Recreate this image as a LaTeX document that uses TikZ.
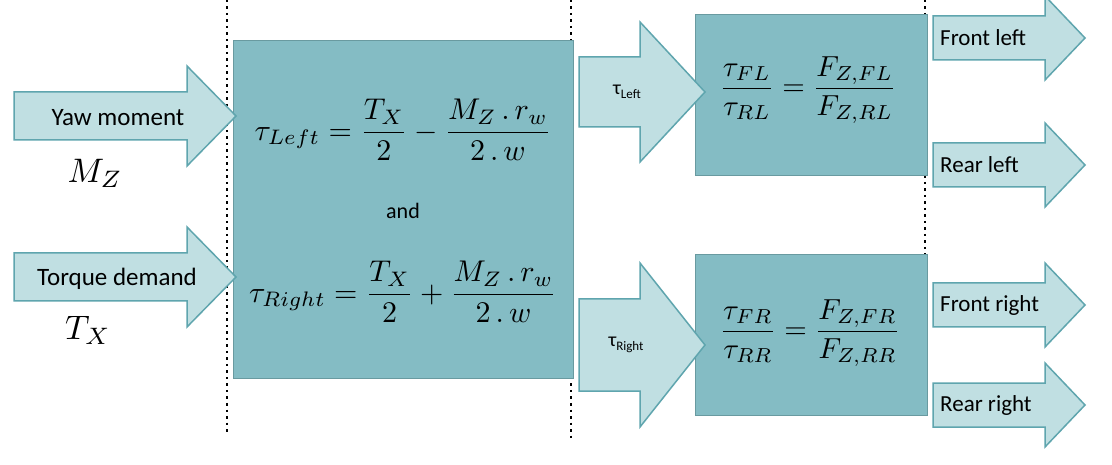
\documentclass[tikz,border=0pt]{standalone}
\usepackage{fontspec}
\setmainfont{Carlito}
\usepackage{amsmath}
\usepackage{graphicx}
\definecolor{boxc}{HTML}{84BCC4}
\definecolor{arrc}{HTML}{C0DFE2}
\definecolor{edgec}{HTML}{5FA5AE}
% #1 x start, #2 x head base, #3 x tip, #4 y centre, #5 body half, #6 head half
\newcommand{\myarrow}[6]{\draw[arr] (#1,#4-#5) -- (#2,#4-#5) -- (#2,#4-#6) -- (#3,#4) -- (#2,#4+#6) -- (#2,#4+#5) -- (#1,#4+#5) -- cycle;}
\begin{document}
\begin{tikzpicture}[x=1pt,y=-1pt,
 box/.style={draw=edgec!70!gray,line width=1.2pt,fill=boxc},
 arr/.style={draw=edgec,line width=1.5pt,fill=arrc,line join=miter},
 lbl/.style={font=\fontsize{25}{30}\selectfont,inner sep=0pt},
 eq/.style={inner sep=0pt},
 sep/.style={line width=2.5pt,dash pattern=on 2.5pt off 4pt}]
\useasboundingbox (0,0) rectangle (1112,465);
\fill[white] (0,0) rectangle (1112,465);
% separators
\coordinate (s1a) at (227,0); \coordinate (s1b) at (227,432);
\coordinate (s2a) at (571,0); \coordinate (s2b) at (571,440);
\coordinate (s3a) at (925,0); \coordinate (s3b) at (925,400);
\draw[sep] (s1a)--(s1b); \draw[sep] (s2a)--(s2b); \draw[sep] (s3a)--(s3b);
% boxes
\node[box,minimum width=340,minimum height=338,anchor=north west] (main) at (233,40) {};
\node[box,minimum width=232,minimum height=161,anchor=north west] (top) at (695,14) {};
\node[box,minimum width=232,minimum height=161,anchor=north west] (bot) at (695,254) {};
% input arrows
\myarrow{14}{187}{236}{116}{24}{50}
\node[lbl] (yawt) at (118,118) {Yaw moment};
\myarrow{14}{187}{236}{277}{24}{50}
\node[lbl] (tqt) at (117,279) {Torque demand};
\node[eq] (mz) at (95,173) {\scalebox{3.4}{$M_Z$}};
\node[eq] (tx) at (88,330) {\scalebox{3.4}{$T_X$}};
% main equations
\node[eq] (e1) at (403,130) {\scalebox{3.0}{$\tau_{Left}=\dfrac{T_X}{2}-\dfrac{M_Z\,.\,r_w}{2\,.\,w}$}};
\node[lbl] (and) at (403,211) {\fontsize{22}{26}\selectfont and};
\node[eq] (e2) at (403,292) {\scalebox{3.0}{$\tau_{Right}=\dfrac{T_X}{2}+\dfrac{M_Z\,.\,r_w}{2\,.\,w}$}};
% middle arrows
\myarrow{579}{640}{705}{92}{35}{70}
\node[inner sep=0pt] (alt) at (627,92) {\fontsize{20}{24}\selectfont τ\raisebox{-0.4ex}{\fontsize{13}{15}\selectfont Left}};
\myarrow{579}{640}{705}{345}{46}{82}
\node[inner sep=0pt] (art) at (626,345) {\fontsize{20}{24}\selectfont τ\raisebox{-0.4ex}{\fontsize{13}{15}\selectfont Right}};
% right equations
\node[eq] (e3) at (808,90) {\scalebox{2.9}{$\dfrac{\tau_{FL}}{\tau_{RL}}=\dfrac{F_{Z,FL}}{F_{Z,RL}}$}};
\node[eq] (e4) at (810,333) {\scalebox{2.9}{$\dfrac{\tau_{FR}}{\tau_{RR}}=\dfrac{F_{Z,FR}}{F_{Z,RR}}$}};
% output arrows
\foreach \n/\y/\t in {fl/38/Front left, rl/165/Rear left, fr/305/Front right, rr/405/Rear right}{
 \myarrow{933}{1045}{1085}{\y}{22}{42}
 \node[lbl,anchor=west,font=\fontsize{23}{27}\selectfont] (\n t) at (940,\y) {\t};
}
\end{tikzpicture}
\end{document}
